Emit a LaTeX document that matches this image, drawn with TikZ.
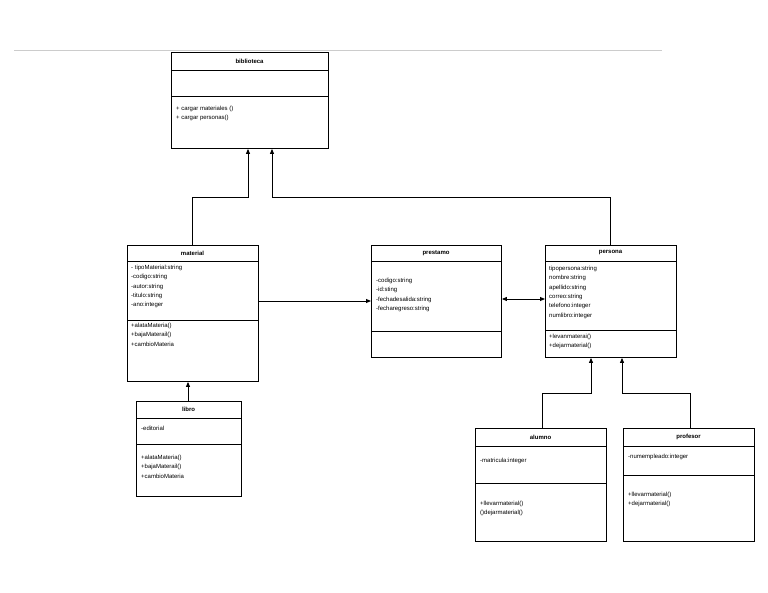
\documentclass[tikz,border=0pt]{standalone}
\usepackage{fontspec}
\setmainfont{Liberation Sans}
\usetikzlibrary{arrows.meta}
\begin{document}
\begin{tikzpicture}[x=1pt,y=-1pt,
  box/.style={draw,line width=0.9pt},
  lbl/.style={font=\fontsize{6}{9.3}\selectfont,anchor=north west,inner sep=0pt,align=left},
  ttl/.style={font=\fontsize{6}{7}\selectfont\bfseries,inner sep=0pt},
  con/.style={line width=0.9pt,-{Triangle[length=5pt,width=4pt]}},
  bicon/.style={line width=0.9pt,{Triangle[length=5pt,width=4pt]}-{Triangle[length=5pt,width=4pt]}}]
\useasboundingbox[fill=white] (0,0) rectangle (768,593);
\draw[gray!40,line width=0.8pt] (14,50) -- (662,50);
% class macro-like drawing
\newcommand{\umlbox}[8]{% name,x1,y1,x2,y2,d1,d2,title
  \node[box,minimum width=#4-#2,minimum height=#5-#3,inner sep=0pt,anchor=north west] (#1) at (#2,#3) {};
  \draw[line width=0.9pt] (#2,#6) -- (#4,#6);
  \draw[line width=0.9pt] (#2,#7) -- (#4,#7);
  \node[ttl] (#1t) at ({(#2+#4)/2},{(#3+#6)/2}) {#8};}
\umlbox{bib}{171}{52}{328}{148}{70}{96}{biblioteca}
\node[lbl] (bibm) at (176,106) {+ cargar materiales ()\\+ cargar personas()};
\umlbox{mat}{127}{245}{258}{381}{261}{320}{material}
\node[lbl] (mata) at (131,265) {- tipoMaterial:string\\-codigo:string\\-autor:string\\-titulo:string\\-ano:integer};
\node[lbl] (matm) at (131,323) {+alataMateria()\\+bajaMaterail()\\+cambioMateria};
\umlbox{pre}{371}{245}{501}{357}{261}{331}{prestamo}
\node[lbl] (prea) at (376,278) {-codigo:string\\-id:sting\\-fechadesalida:string\\-fecharegreso:string};
\umlbox{per}{545}{245}{676}{357}{261}{330}{persona}
\node[lbl] (pera) at (549,266) {tipopersona:string\\nombre:string\\apellido:string\\correo:string\\telefono:integer\\numlibro:integer};
\node[lbl] (perm) at (549,334) {+levanmaterai()\\+dejarmaterial()};
\umlbox{lib}{136}{401}{241}{496}{418}{444}{libro}
\node[lbl] (liba) at (141,426) {-editorial};
\node[lbl] (libm) at (141,455) {+alataMateria()\\+bajaMaterail()\\+cambioMateria};
\umlbox{alu}{475}{428}{606}{541}{446}{483}{alumno}
\node[lbl] (alua) at (480,458) {-matricula:integer};
\node[lbl] (alum) at (480,501) {+llevarmaterial()\\()dejarmaterial()};
\umlbox{pro}{623}{428}{754}{541}{446}{475}{profesor}
\node[lbl] (proa) at (628,454) {-numempleado:integer};
\node[lbl] (prom) at (628,492) {+llevarmaterial()\\+dejarmaterial()};
% connectors
\draw[con] (mat.north -| 192,0) -- (192,197) -- (248,197) -- (bib.south -| 248,0);
\draw[con] (per.north -| 610,0) -- (610,197) -- (272,197) -- (bib.south -| 272,0);
\draw[con] (mat.east |- 0,301) -- (pre.west |- 0,301);
\draw[bicon] (pre.east |- 0,299) -- (per.west |- 0,299);
\draw[con] (lib.north -| 188,0) -- (mat.south -| 188,0);
\draw[con] (alu.north -| 542,0) -- (542,393) -- (591,393) -- (per.south -| 591,0);
\draw[con] (pro.north -| 690,0) -- (690,393) -- (622,393) -- (per.south -| 622,0);
\end{tikzpicture}
\end{document}
